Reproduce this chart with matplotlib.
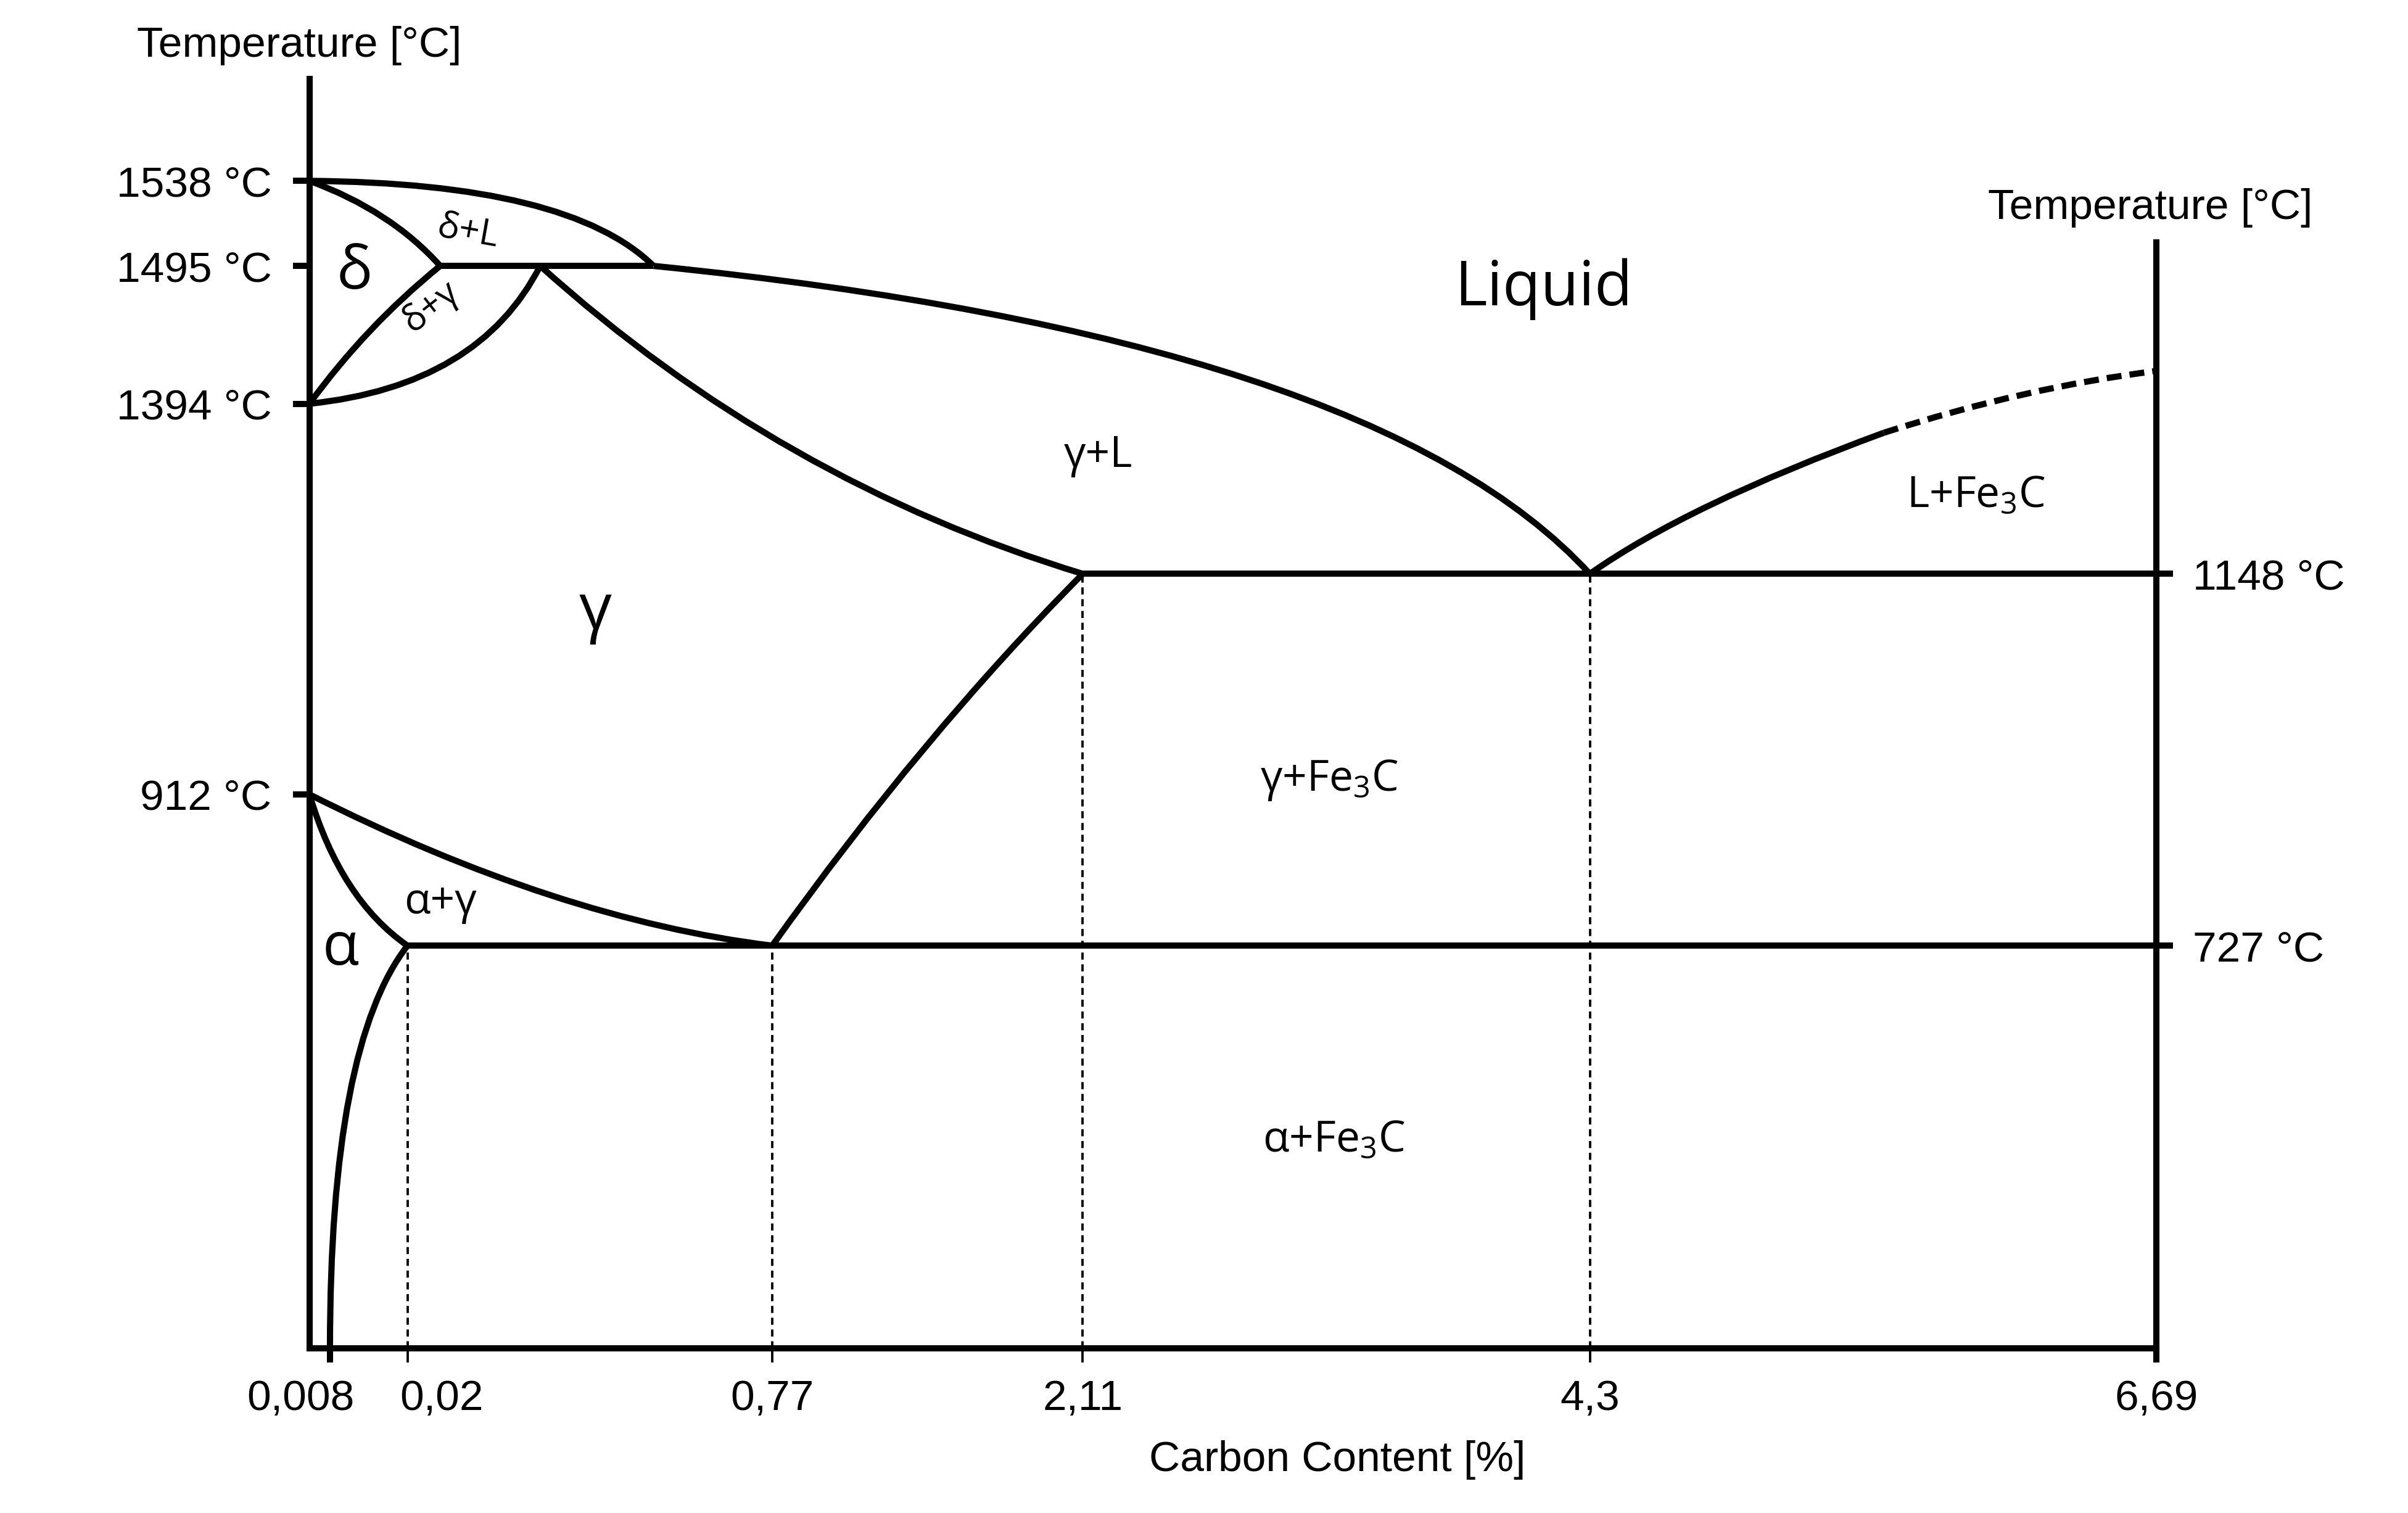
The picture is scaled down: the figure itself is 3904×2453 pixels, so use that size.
import numpy as np
import matplotlib
matplotlib.use('Agg')
import matplotlib.pyplot as plt
from matplotlib.path import Path
from matplotlib.patches import PathPatch
from matplotlib.transforms import ScaledTranslation

plt.rcParams['mathtext.fontset'] = 'custom'
plt.rcParams['mathtext.rm'] = 'Open Sans'
plt.rcParams['mathtext.it'] = 'Open Sans:italic'

# Axis ticks (carbon in %, temperature in °C)
tick_c = [0.008, 0.02, 0.77, 2.11, 4.3, 6.69]
tick_c_labels = ['0,008', '0,02', '0,77', '2,11', '4,3', '6,69']
left_t = [912, 1394, 1495, 1538]
left_t_labels = ['912 °C', '1394 °C', '1495 °C', '1538 °C']
right_t = [727, 1148]
right_t_labels = ['727 °C', '1148 °C']

# Phase boundaries: start point, bezier control point, end point
liq_delta_c = [0, 0.262, 0.53]
liq_delta_t = [1538, 1537, 1495]
sol_delta_c = [0, 0.0174, 0.09]
sol_delta_t = [1538, 1523, 1495]
delta_lo_c = [0, 0.0136, 0.09]
delta_lo_t = [1394, 1451, 1495]
gamma_hi_c = [0, 0.121, 0.17]
gamma_hi_t = [1394, 1407, 1495]
liq_gamma_c = [0.53, 3.368, 4.3]
liq_gamma_t = [1495, 1442, 1148]
sol_gamma_c = [0.17, 0.803, 2.11]
sol_gamma_t = [1495, 1281, 1148]
acm_c = [2.11, 1.414, 0.77]
acm_t = [1148, 974, 727]
a3_c = [0, 0.225, 0.77]
a3_t = [912, 759, 727]
alpha_gamma_c = [0, 0.00965, 0.02]
alpha_gamma_t = [912, 784, 727]
alpha_solvus_c = [0.02, 0.008, 0.008]
alpha_solvus_t = [727, 547, 0]
liq_cem_c = [4.3, 4.713, 5.54]
liq_cem_t = [1148, 1248, 1352]
liq_cem_dash_c = [5.54, 6.134, 6.69]
liq_cem_dash_t = [1352, 1406, 1418]

# Isotherms
peritectic_c = [0.09, 0.53]
eutectic_c = [2.11, 6.69]
eutectoid_c = [0.02, 6.69]

# Dotted drop lines
drop_c = [0.02, 0.77, 2.11, 4.3]
drop_t = [727, 727, 1148, 1148]

# Phase field labels
region_text = ['δ', 'δ+L', 'δ+γ', 'Liquid', 'γ', 'γ+L', 'L+$\\mathrm{Fe_3C}$',
               'γ+$\\mathrm{Fe_3C}$', 'α+$\\mathrm{Fe_3C}$', 'α+γ', 'α']
region_c = [0.0118, 0.112, 0.0709, 4.10, 0.345, 2.177, 5.928, 3.175, 3.195, 0.09, 0.00965]
region_t = [1490, 1512, 1465, 1478, 1107, 1319, 1261, 927, 375, 780, 721]

# ---- schematic (non linear) axes, like the hand drawn diagram ----
x_anchor_c = [0, 0.008, 0.02, 0.09, 0.17, 0.53, 0.77, 2.11, 4.3, 6.69]
x_anchor_pos = [0, 13.3, 63.5, 84.7, 149.5, 222.9, 299.8, 501, 829.5, 1196.5]
y_anchor_t = [0, 727, 912, 1148, 1394, 1495, 1538, 1590]
y_anchor_pos = [0, 260.8, 358.8, 501.7, 611.9, 701.2, 756.3, 822.5]


def fwd_x(c):
    return np.interp(c, x_anchor_c, x_anchor_pos)


def inv_x(p):
    return np.interp(p, x_anchor_pos, x_anchor_c)


def fwd_y(t):
    return np.interp(t, y_anchor_t, y_anchor_pos)


def inv_y(p):
    return np.interp(p, y_anchor_pos, y_anchor_t)


LW = 2.9
THIN = 1.1
AXFONT = 'Liberation Sans'
LBFONT = 'Open Sans'

fig = plt.figure(figsize=(3904 / 250, 2453 / 250), dpi=250)
ax = fig.add_axes([0.1285, 0.1089, 0.7670, 0.8391])
ax.set_xscale('function', functions=(fwd_x, inv_x))
ax.set_yscale('function', functions=(fwd_y, inv_y))


def boundary(c, t, dashed=False):
    path = Path(np.column_stack([c, t]), [Path.MOVETO, Path.CURVE3, Path.CURVE3])
    ls = (0, (2.4, 1.3)) if dashed else '-'
    ax.add_patch(PathPatch(path, fill=False, ec='black', lw=LW, ls=ls,
                           capstyle='butt', joinstyle='round', clip_on=False))


boundary(liq_delta_c, liq_delta_t)
boundary(sol_delta_c, sol_delta_t)
boundary(delta_lo_c, delta_lo_t)
boundary(gamma_hi_c, gamma_hi_t)
boundary(liq_gamma_c, liq_gamma_t)
boundary(sol_gamma_c, sol_gamma_t)
boundary(acm_c, acm_t)
boundary(a3_c, a3_t)
boundary(alpha_gamma_c, alpha_gamma_t)
boundary(alpha_solvus_c, alpha_solvus_t)
boundary(liq_cem_c, liq_cem_t)
boundary(liq_cem_dash_c, liq_cem_dash_t, dashed=True)

ax.hlines(1495, *peritectic_c, color='black', lw=LW, clip_on=False)
ax.hlines(1148, *eutectic_c, color='black', lw=LW, clip_on=False)
ax.hlines(727, *eutectoid_c, color='black', lw=LW, clip_on=False)
ax.vlines(drop_c, 0, drop_t, color='black', lw=THIN, linestyles=[(0, (3, 2))], clip_on=False)

sizes = [28, 17, 17, 29, 30, 20, 20, 20, 20, 20, 28]
rots = [0, -10, 38, 0, 0, 0, 0, 0, 0, 0, 0]
for txt, c, t, s, r in zip(region_text, region_c, region_t, sizes, rots):
    ax.text(c, t, txt, ha='center', va='center', fontsize=s, rotation=r,
            rotation_mode='anchor', family=LBFONT)

ax.set_xlim(0, 6.69)
ax.set_ylim(0, 1590)

for s in ['top', 'right']:
    ax.spines[s].set_visible(False)
for s in ['left', 'bottom']:
    ax.spines[s].set_linewidth(LW)
    ax.spines[s].set_capstyle('projecting')

ax.set_xticks(tick_c, tick_c_labels, fontsize=20, family=AXFONT)
ax.set_yticks(left_t, left_t_labels, fontsize=20, family=AXFONT)
ax.minorticks_off()
ax.tick_params(axis='x', length=6.5, width=THIN, pad=8, direction='out')
ax.tick_params(axis='y', length=7.7, width=LW, pad=9.9, direction='out')

xt = ax.xaxis.get_major_ticks()
xt[0].tick1line.set_markeredgewidth(LW)
xt[5].tick1line.set_markeredgewidth(LW)
# first two labels pushed apart so they do not collide
xt[0].label1.set_transform(xt[0].label1.get_transform()
                           + ScaledTranslation(-13.7 / 72, 0, fig.dpi_scale_trans))
xt[1].label1.set_transform(xt[1].label1.get_transform()
                           + ScaledTranslation(15.9 / 72, 0, fig.dpi_scale_trans))

# right temperature axis at 6.69 %
ax2 = ax.twinx()
ax2.set_yscale('function', functions=(fwd_y, inv_y))
ax2.set_ylim(0, 1590)
for s in ['top', 'left', 'bottom']:
    ax2.spines[s].set_visible(False)
ax2.spines['right'].set_linewidth(LW)
ax2.spines['right'].set_bounds(0, 1507)
ax2.set_yticks(right_t, right_t_labels, fontsize=20, family=AXFONT)
ax2.minorticks_off()
ax2.tick_params(axis='y', length=7.9, width=LW, pad=9, direction='out')

fig.text(194 / 1560, 1 - 29.5 / 980.2, 'Temperature [°C]', ha='center', va='center',
         fontsize=20, family=AXFONT)
fig.text(1393 / 1560, 1 - 134.5 / 980.2, 'Temperature [°C]', ha='center', va='center',
         fontsize=20, family=AXFONT)
fig.text(866.5 / 1560, 1 - 946 / 980.2, 'Carbon Content [%]', ha='center', va='center',
         fontsize=20, family=AXFONT)

fig.savefig('out.png', dpi=250)
